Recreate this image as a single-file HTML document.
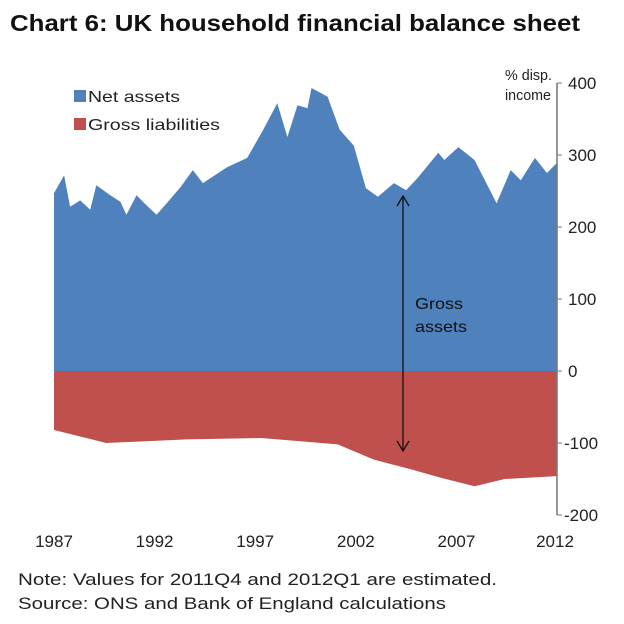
<!DOCTYPE html>
<html><head><meta charset="utf-8"><style>
body{margin:0;background:#fff;font-family:"Liberation Sans",Arial,sans-serif}
svg{display:block}
</style></head><body>
<svg width="624" height="624" viewBox="0 0 624 624">
<text x="10" y="31" font-size="23" font-weight="bold" fill="#111" textLength="570" lengthAdjust="spacingAndGlyphs">Chart 6: UK household financial balance sheet</text>
<g id="plot"></g>
<line x1="557" y1="83" x2="557" y2="515" stroke="#777" stroke-width="1.5"/>
<g id="yt"></g>
<g id="xt"></g>
<text x="505" y="80" font-size="15" fill="#222" textLength="47" lengthAdjust="spacingAndGlyphs">% disp.</text>
<text x="505" y="100" font-size="15" fill="#222" textLength="46" lengthAdjust="spacingAndGlyphs">income</text>
<rect x="74" y="90" width="12" height="12" fill="#4f81bd"/>
<text x="88" y="102" font-size="16" fill="#222" textLength="92" lengthAdjust="spacingAndGlyphs">Net assets</text>
<rect x="74" y="118" width="12" height="12" fill="#c0504d"/>
<text x="88" y="130" font-size="16" fill="#222" textLength="132" lengthAdjust="spacingAndGlyphs">Gross liabilities</text>
<g>
<line x1="403" y1="197" x2="403" y2="450" stroke="#111" stroke-width="1.3"/>
<polyline points="397,206 403,196 409,206" fill="none" stroke="#111" stroke-width="1.3"/>
<polyline points="397,441 403,451 409,441" fill="none" stroke="#111" stroke-width="1.3"/>
</g>
<text x="415" y="309" font-size="16" fill="#111" textLength="48" lengthAdjust="spacingAndGlyphs">Gross</text>
<text x="415" y="332" font-size="16" fill="#111" textLength="52" lengthAdjust="spacingAndGlyphs">assets</text>
<text x="18" y="585" font-size="17" fill="#222" textLength="479" lengthAdjust="spacingAndGlyphs">Note: Values for 2011Q4 and 2012Q1 are estimated.</text>
<text x="18" y="609" font-size="17" fill="#222" textLength="428" lengthAdjust="spacingAndGlyphs">Source: ONS and Bank of England calculations</text>
</svg>
<script>
const netYears=[1987.0,1987.5,1987.8,1988.3,1988.8,1989.1,1989.8,1990.3,1990.6,1991.1,1991.6,1992.1,1992.6,1993.3,1993.9,1994.4,1995.6,1996.6,1997.4,1998.1,1998.6,1999.1,1999.6,1999.8,2000.6,2001.2,2001.9,2002.5,2003.1,2003.9,2004.5,2005.1,2006.1,2006.4,2007.1,2007.9,2009.0,2009.7,2010.2,2010.9,2011.5,2012.0];
const netValues=[247,272,228,237,224,258,244,235,217,244,230,217,233,256,279,261,283,296,335,372,325,369,365,393,381,335,313,254,242,261,251,269,303,293,311,293,233,279,265,296,275,289];
const liabYears=[1987.0,1989.6,1993.6,1997.3,2001.1,2002.9,2004.8,2006.2,2007.9,2009.4,2012.0];
const liabValues=[-82,-100,-95,-93,-102,-123,-137,-148,-160,-150,-146];
const yTicks=[400,300,200,100,0,-100,-200];
const xTicks=[1987,1992,1997,2002,2007,2012];
const NS="http://www.w3.org/2000/svg";
const X=y=>54+(y-1987)*20.12;
const Y=v=>371-v*0.72;
function area(ys,vs,color,name){
  let d="M"+X(ys[0])+","+Y(0);
  ys.forEach((y,i)=>{d+=" L"+X(y).toFixed(1)+","+Y(vs[i]).toFixed(1);});
  d+=" L"+X(ys[ys.length-1])+","+Y(0)+"Z";
  const p=document.createElementNS(NS,"path");
  p.setAttribute("d",d);p.setAttribute("fill",color);
  
  
  document.getElementById("plot").appendChild(p);
}
area(netYears,netValues,"#4f81bd","net-assets-area");
area(liabYears,liabValues,"#c0504d","gross-liabilities-area");
const yt=document.getElementById("yt");
yTicks.forEach(v=>{
  const l=document.createElementNS(NS,"line");
  l.setAttribute("x1",557);l.setAttribute("x2",562);l.setAttribute("y1",Y(v));l.setAttribute("y2",Y(v));l.setAttribute("stroke","#777");
  
  
  yt.appendChild(l);
  const t=document.createElementNS(NS,"text");
  t.setAttribute("x",v<0?564:568);t.setAttribute("y",Y(v)+6);t.setAttribute("font-size","17");t.setAttribute("fill","#222");
  t.textContent=v;
  
  
  yt.appendChild(t);
});
const xt=document.getElementById("xt");
xTicks.forEach(y=>{
  const t=document.createElementNS(NS,"text");
  t.setAttribute("x",X(y)+(y===2012?-2:0));t.setAttribute("y",547);t.setAttribute("font-size","17");t.setAttribute("fill","#222");t.setAttribute("text-anchor","middle");
  t.textContent=y;
  
  
  xt.appendChild(t);
});
</script>
</body></html>
